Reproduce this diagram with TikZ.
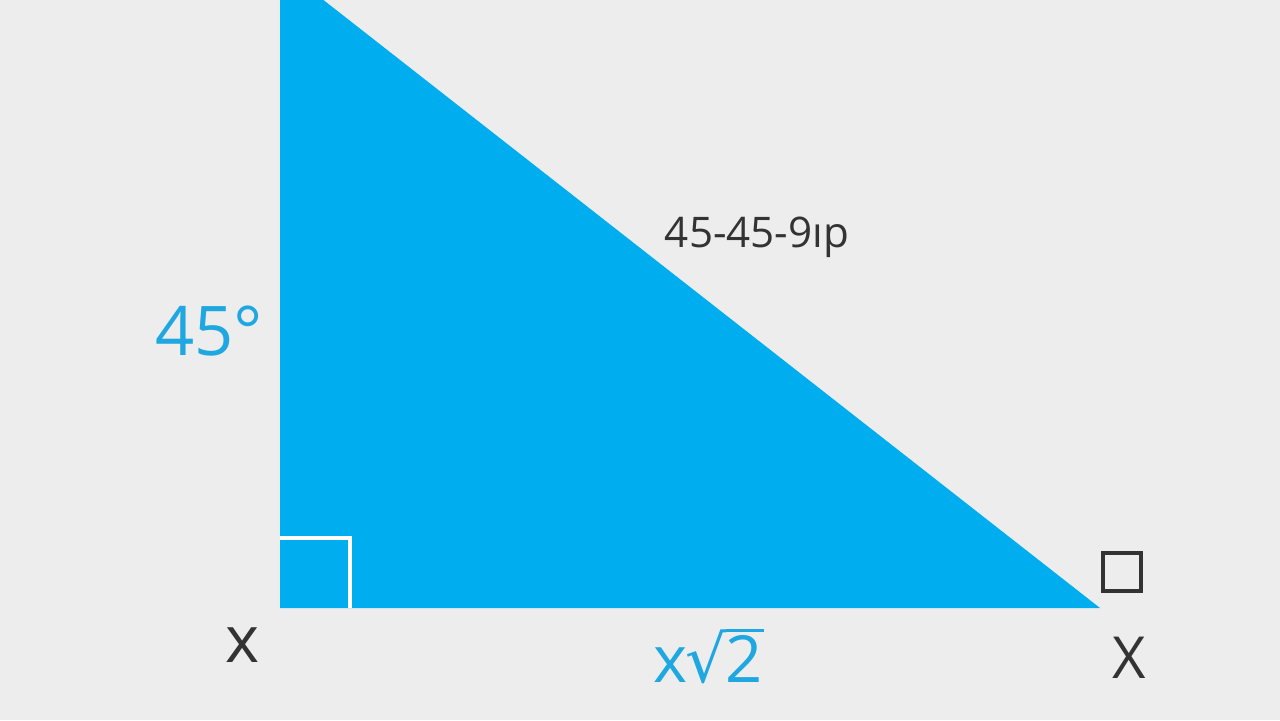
\documentclass[tikz,border=0pt]{standalone}
\usepackage{fontspec}
\setmainfont{Open Sans}
\newfontfamily\symfont{DejaVu Sans}
\usepackage{tikz}
\definecolor{bgray}{RGB}{237,237,237}
\definecolor{tblue}{RGB}{0,174,239}
\definecolor{lblue}{RGB}{30,167,225}
\definecolor{dgray}{RGB}{51,51,51}

\begin{document}
\begin{tikzpicture}[x=0.02cm,y=-0.02cm,
        lbl/.style={inner sep=0pt,anchor=base},
        boxline/.style={line width=1.8pt}]
        % the frame
        \fill[bgray] (0,0) rectangle (1280,720);
        \useasboundingbox (0,0) rectangle (1280,720);
        \clip (0,0) rectangle (1280,720);
        % the corners of the triangle
        \coordinate (A) at (280,-34);
        \coordinate (B) at (280,608);
        \coordinate (C) at (1100,608);
        \fill[tblue] (A) -- (B) -- (C) -- cycle;
        % the right angle and the small box
        \draw[white,boxline] (280,538) -- (350,538) -- (350,608);
        \draw[dgray,boxline] (1103,553) rectangle (1141,591);
        % the labels
        \node[lbl,lblue,font=\fontsize{39}{39}\selectfont] (ang) at (209,355) {45°};
        \node[lbl,dgray,font=\fontsize{24}{24}\selectfont] (name) at (757,247) {45-45-9ıp};
        \node[lbl,dgray,font=\fontsize{37}{37}\selectfont] (xa) at (243,662) {x};
        \node[lbl,lblue,font=\fontsize{37}{37}\selectfont] (hyp) at (709,682)
            {x{\symfont\kern-1pt√}\kern-1pt\vbox{\hrule height 1.7pt\kern 1.5pt\hbox{2\kern1pt}}};
        \node[lbl,dgray,font=\fontsize{33}{33}\selectfont] (xb) at (1129,678) {X};
    \end{tikzpicture}
\end{document}
